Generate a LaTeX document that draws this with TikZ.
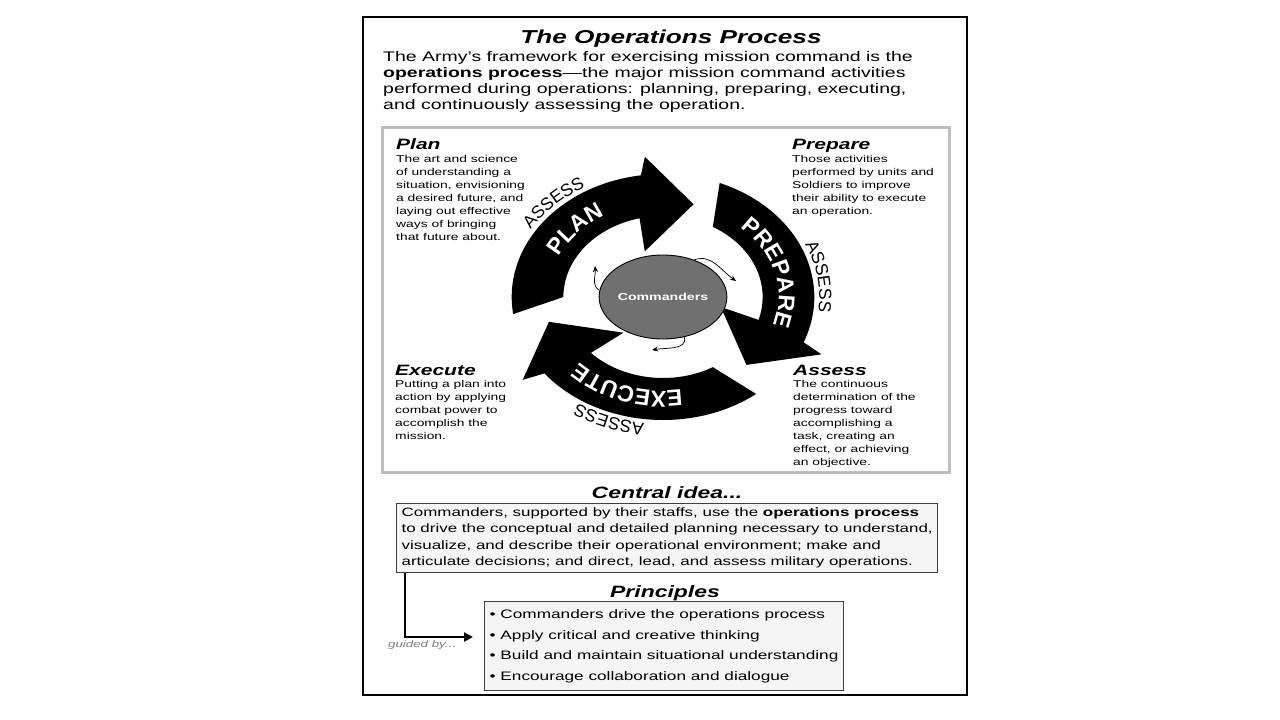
\documentclass[tikz,border=0pt]{standalone}
\usepackage{fontspec}
\setmainfont{Liberation Sans}[FakeStretch=1.4]
\newfontfamily\ringfont{Liberation Sans}
\usetikzlibrary{arrows.meta,positioning,shapes.geometric,decorations.text}
\definecolor{rimgray}{RGB}{190,190,190}
\definecolor{cmdgray}{RGB}{112,112,112}
\definecolor{notegray}{RGB}{125,125,125}
\definecolor{panelfill}{RGB}{245,245,245}
\newcommand{\bandfont}{\ringfont\bfseries\fontsize{23}{23}\selectfont}
\newcommand{\assessfont}{\ringfont\fontsize{17.5}{17.5}\selectfont}

\begin{document}
\begin{tikzpicture}[x=1pt, y=-1pt,
    >={Stealth},
    title/.style={font=\bfseries\itshape\fontsize{18.7}{20}\selectfont, anchor=base, inner sep=0pt},
    intro/.style={font=\fontsize{13.9}{16}\selectfont, align=left, anchor=north west, inner sep=0pt},
    head/.style={font=\bfseries\itshape\fontsize{15}{16}\selectfont, anchor=base west, inner sep=0pt},
    desc/.style={font=\fontsize{9.9}{13}\selectfont, align=left, anchor=north west, inner sep=0pt},
    bighead/.style={font=\bfseries\itshape\fontsize{16.4}{18}\selectfont, anchor=base, inner sep=0pt},
    panel/.style={draw=black!75, fill=panelfill, line width=1.3pt, align=left,
       anchor=north west, inner xsep=5pt},
    cmd/.style={ellipse, draw=black, line width=0.9pt, fill=cmdgray, text=white,
       font=\bfseries\fontsize{10.1}{11}\selectfont, minimum width=103pt,
       minimum height=84pt, inner sep=0pt},
    cue/.style={line width=0.7pt, -{Stealth[length=6pt,width=5pt]}},
    guide/.style={line width=2.2pt, -{Triangle[length=9pt,width=9pt]}},
    note/.style={font=\itshape\fontsize{9.5}{10}\selectfont, text=notegray, anchor=west, inner sep=0pt}
  ]
    \useasboundingbox (0,0) rectangle (1280,720);

    % Outer frame and inner panel
    \draw[line width=1.2pt] (363,17) rectangle (967,695);
    \draw[rimgray, line width=3pt] (382,127) rectangle (949,472);

    % Title and introduction
    \node[title] (ttl) at (671,43) {The Operations Process};
    \node[intro] (intro) at (383,51) {The Army’s framework for exercising mission command is the\\
      \textbf{operations process}—the major mission command activities\\
      performed during operations: planning, preparing, executing,\\
      and continuously assessing the operation.};

    % Activity descriptions
    \node[head] (hplan) at (396,149) {Plan};
    \node[desc] (dplan) at (396,154.8) {The art and science\\ of understanding a\\
      situation, envisioning\\ a desired future, and\\ laying out effective\\
      ways of bringing\\ that future about.};
    \node[head] (hprep) at (792,149) {Prepare};
    \node[desc] (dprep) at (792,154.8) {Those activities\\ performed by units and\\
      Soldiers to improve\\ their ability to execute\\ an operation.};
    \node[head] (hexec) at (395,375) {Execute};
    \node[desc] (dexec) at (395,380.5) {Putting a plan into\\ action by applying\\
      combat power to\\ accomplish the\\ mission.};
    \node[head] (hasse) at (793,375) {Assess};
    \node[desc] (dasse) at (793,380.5) {The continuous\\ determination of the\\
      progress toward\\ accomplishing a\\ task, creating an\\ effect, or achieving\\
      an objective.};

    % Cycle of the three activities
    \begin{scope}[shift={(663,297)}, y=1pt, xscale=1.23]
      \foreach \k in {0,1,2} {
        \fill[rotate=-120*\k] (188:123) arc (188:98.4:123) -- (96:141) -- (75:96)
          -- (108:48) -- (103.6:81) arc (103.6:180:81) -- cycle;
      }
      \path[decorate, decoration={text along path, text align=center, text color=white,
        text={|\bandfont|PLAN}}] (196:94) arc (196:86:94);
      \path[decorate, decoration={text along path, text align=center, text color=white,
        text={|\bandfont|PREPARE}}] (69:94) arc (69:-41:94);
      \path[decorate, decoration={text along path, text align=center, text color=white,
        text={|\bandfont|EXECUTE}}] (305:94) arc (305:195:94);
      \path[decorate, decoration={text along path, text align=center,
        text={|\assessfont|ASSESS}}] (187:127) arc (187:87:127);
      \path[decorate, decoration={text along path, text align=center,
        text={|\assessfont|ASSESS}}] (58:127) arc (58:-42:127);
      \path[decorate, decoration={text along path, text align=center,
        text={|\assessfont|ASSESS}}] (298:127) arc (298:198:127);
    \end{scope}

    % Commanders at the centre
    \node[cmd] (cmd) at (663,297) {Commanders};
    \coordinate (toplan) at (595,266);
    \coordinate (toprep) at (736,281);
    \coordinate (toexec) at (652,350);
    \draw[cue] (cmd.174) to[out=150, in=-85] (toplan);
    \draw[cue] (cmd.50) to[out=20, in=145] (toprep);
    \draw[cue] (cmd.-62) to[out=-75, in=10] (toexec);

    % Central idea
    \node[bighead] (hidea) at (667,498) {Central idea...};
    \node[panel, font=\fontsize{12.1}{16.5}\selectfont, inner ysep=4pt]
      (cbox) at (396,503) {Commanders, supported by their staffs, use the \textbf{operations process}\\
      to drive the conceptual and detailed planning necessary to understand,\\
      visualize, and describe their operational environment; make and\\
      articulate decisions; and direct, lead, and assess military operations.};

    % Principles
    \node[bighead] (hprin) at (665,597) {Principles};
    \node[panel, font=\fontsize{12.3}{20.6}\selectfont, minimum height=89pt]
      (pbox) at (484,601) {• Commanders drive the operations process\\
      • Apply critical and creative thinking\\
      • Build and maintain situational understanding\\
      • Encourage collaboration and dialogue};

    \coordinate (gend) at (473,637);
    \draw[guide] ([xshift=9pt]cbox.south west) |- (gend);
    \node[note] (gnote) at (388,645) {guided by...};
  \end{tikzpicture}
\end{document}
